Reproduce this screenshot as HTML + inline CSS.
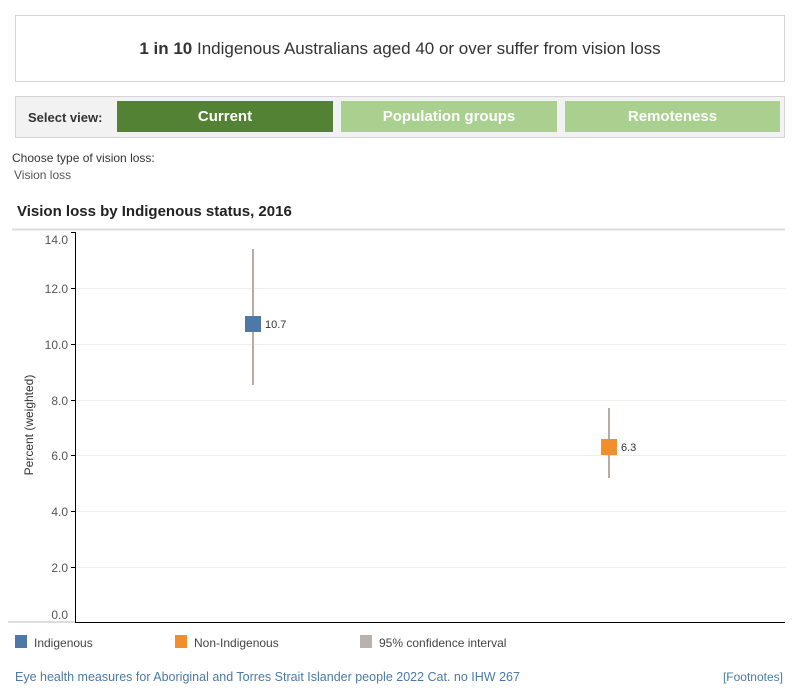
<!DOCTYPE html>
<html><head><meta charset="utf-8"><style>
body{margin:0;width:800px;height:700px;background:#fff;font-family:"Liberation Sans",sans-serif;position:relative;overflow:hidden}
.a{position:absolute}
.btn{position:absolute;top:101px;height:31px;color:#fff;font-weight:bold;font-size:15px;text-align:center;line-height:32px}
</style></head><body>
<div class="a" style="left:15px;top:15px;width:768px;height:65px;border:1px solid #d4d4d4;text-align:center;line-height:66px;font-size:17px;color:#333"><b>1 in 10</b> Indigenous Australians aged 40 or over suffer from vision loss</div>
<div class="a" style="left:15px;top:96px;width:768px;height:40px;border:1px solid #d4d4d4;background:#f2f2f2"></div>
<div class="a" style="left:28px;top:110px;font-size:13px;font-weight:bold;color:#333">Select view:</div>
<div class="btn" style="left:117px;width:216px;background:#548235">Current</div>
<div class="btn" style="left:341px;width:216px;background:#a9d08e">Population groups</div>
<div class="btn" style="left:565px;width:215px;background:#a9d08e">Remoteness</div>
<div class="a" style="left:12px;top:151px;font-size:12px;color:#333">Choose type of vision loss:</div>
<div class="a" style="left:14px;top:168px;font-size:12px;color:#555">Vision loss</div>
<div class="a" style="left:17px;top:203px;font-size:15px;font-weight:bold;color:#222">Vision loss by Indigenous status, 2016</div>
<svg class="a" style="left:0;top:0" width="800" height="700">
<line x1="12" y1="229.5" x2="785" y2="229.5" stroke="#ddd" stroke-width="2"/>
<g stroke="#eee" stroke-width="1">
<line x1="76" x2="785" y1="288.5" y2="288.5"/><line x1="76" x2="785" y1="344.5" y2="344.5"/><line x1="76" x2="785" y1="400.5" y2="400.5"/><line x1="76" x2="785" y1="455.5" y2="455.5"/><line x1="76" x2="785" y1="511.5" y2="511.5"/><line x1="76" x2="785" y1="567.5" y2="567.5"/>
</g>
<line x1="8" y1="622" x2="75" y2="622" stroke="#ddd" stroke-width="2"/>
<line x1="75.5" y1="232" x2="75.5" y2="623" stroke="#000"/>
<line x1="75" y1="622.5" x2="785" y2="622.5" stroke="#000"/>
<g stroke="#000"><line x1="71" x2="75" y1="232.5" y2="232.5"/><line x1="71" x2="75" y1="288.5" y2="288.5"/><line x1="71" x2="75" y1="344.5" y2="344.5"/><line x1="71" x2="75" y1="400.5" y2="400.5"/><line x1="71" x2="75" y1="455.5" y2="455.5"/><line x1="71" x2="75" y1="511.5" y2="511.5"/><line x1="71" x2="75" y1="567.5" y2="567.5"/></g>
<g font-size="12" fill="#555" text-anchor="end">
<text x="68" y="244">14.0</text><text x="68" y="293">12.0</text><text x="68" y="349">10.0</text><text x="68" y="405">8.0</text><text x="68" y="460">6.0</text><text x="68" y="516">4.0</text><text x="68" y="572">2.0</text><text x="68" y="619">0.0</text>
</g>
<text transform="translate(33,425) rotate(-90)" font-size="12" fill="#333" text-anchor="middle">Percent (weighted)</text>
<line x1="253" x2="253" y1="249" y2="385" stroke="#b4aca8" stroke-width="2"/>
<rect x="245" y="316" width="16" height="16" fill="#4e79a7"/>
<text x="265" y="328" font-size="11" fill="#333">10.7</text>
<line x1="609" x2="609" y1="408" y2="478" stroke="#b4aca8" stroke-width="2"/>
<rect x="601" y="439" width="16" height="16" fill="#f28e2b"/>
<text x="621" y="451" font-size="11" fill="#333">6.3</text>
<rect x="15" y="635" width="12" height="13" fill="#4e79a7"/>
<text x="34" y="647" font-size="12" fill="#444">Indigenous</text>
<rect x="175" y="635" width="12" height="13" fill="#f28e2b"/>
<text x="194" y="647" font-size="12" fill="#444">Non-Indigenous</text>
<rect x="360" y="635" width="12" height="13" fill="#bab0ac"/>
<text x="379" y="647" font-size="12" fill="#444">95% confidence interval</text>
<text x="15" y="681" font-size="12.5" fill="#4a7aa8">Eye health measures for Aboriginal and Torres Strait Islander people 2022 Cat. no IHW 267</text>
<text x="783" y="681" font-size="12" fill="#4a7aa8" text-anchor="end">[Footnotes]</text>
</svg>
</body></html>
